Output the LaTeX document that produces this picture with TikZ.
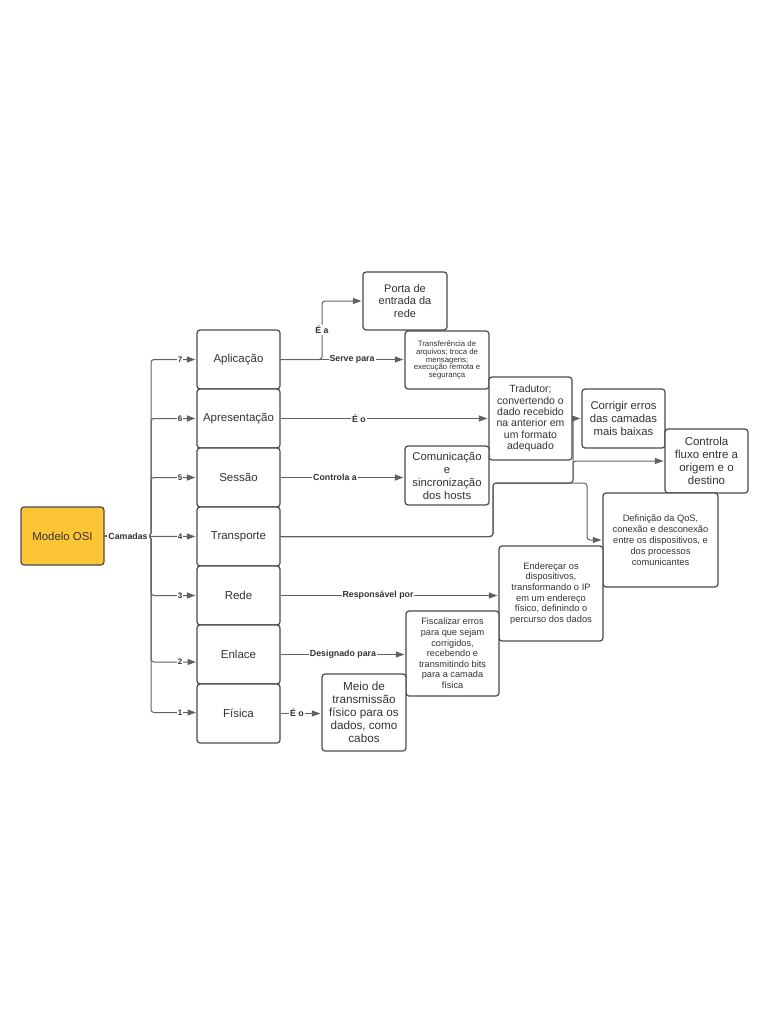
\documentclass[tikz,border=0pt]{standalone}
\usepackage{fontspec}
\setmainfont{Liberation Sans}
\usetikzlibrary{arrows.meta,calc}
\definecolor{txt}{HTML}{333333}
\definecolor{ln}{HTML}{616161}
\definecolor{bd}{HTML}{4A4A4A}
\definecolor{osiy}{HTML}{FBC535}
\newcommand{\fs}[2]{\fontsize{#1}{#2}\selectfont}
\begin{document}
\begin{tikzpicture}[x=1pt,y=-1pt,
 box/.style={draw=bd, line width=1.2pt, rounded corners=3pt, fill=white, inner sep=0pt, align=center, text=txt},
 conn/.style={draw=ln, line width=1pt, rounded corners=3pt, shorten >=1pt, -{Triangle[length=8.5pt,width=6pt]}},
 lab/.style={fill=white, inner sep=1pt, font=\fs{8.8}{10}\bfseries, text=txt},
 numlab/.style={fill=white, inner sep=1pt, font=\fs{8}{9}\bfseries, text=txt}
]
\useasboundingbox (0,0) rectangle (768,1024);
\fill[white] (0,0) rectangle (768,1024);

% main node
\node[box, fill=osiy, minimum width=83pt, minimum height=58pt, font=\fs{11.4}{13}] (osi) at (62.5,536) {Modelo OSI};

% layers
\node[box, minimum width=83pt, minimum height=59pt, font=\fs{11.5}{13}] (apl) at (238.5,359.5) {Aplicação};
\node[box, minimum width=83pt, minimum height=59pt, font=\fs{11.5}{13}] (apr) at (238.5,418.5) {Apresentação};
\node[box, minimum width=83pt, minimum height=59pt, font=\fs{11.5}{13}] (ses) at (238.5,477.5) {Sessão};
\node[box, minimum width=83pt, minimum height=59pt, font=\fs{11.5}{13}] (tra) at (238.5,536.5) {Transporte};
\node[box, minimum width=83pt, minimum height=59pt, font=\fs{11.5}{13}] (red) at (238.5,595.5) {Rede};
\node[box, minimum width=83pt, minimum height=59pt, font=\fs{11.5}{13}] (enl) at (238.5,654.5) {Enlace};
\node[box, minimum width=83pt, minimum height=59pt, font=\fs{11.5}{13}] (fis) at (238.5,713.5) {Física};

% description boxes
\node[box, minimum width=84pt, minimum height=58pt, font=\fs{11}{12.5}] (porta) at (405,301) {Porta de\\entrada da\\rede};
\node[box, minimum width=84pt, minimum height=58pt, font=\fs{7.8}{7.8}] (transf) at (447,360) {Transferência de\\arquivos; troca de\\mensagens;\\execução remota e\\segurança};
\node[box, minimum width=83pt, minimum height=83pt, font=\fs{10.5}{11.4}] (trad) at (530.5,418.5) {Tradutor;\\convertendo o\\dado recebido\\na anterior em\\um formato\\adequado};
\node[box, minimum width=84pt, minimum height=59pt, font=\fs{11.3}{13}] (comun) at (447,475.5) {Comunicação\\e\\sincronização\\dos hosts};
\node[box, minimum width=83pt, minimum height=59pt, font=\fs{11.3}{13}] (corr) at (623.5,418.5) {Corrigir erros\\das camadas\\mais baixas};
\node[box, minimum width=83pt, minimum height=64pt, font=\fs{11.5}{12.8}] (ctrl) at (706.5,461) {Controla\\fluxo entre a\\origem e o\\destino};
\node[box, minimum width=115pt, minimum height=94pt, font=\fs{9.3}{11}] (def) at (660.5,540) {Definição da QoS,\\conexão e desconexão\\entre os dispositivos, e\\dos processos\\comunicantes};
\node[box, minimum width=104pt, minimum height=95pt, font=\fs{9.3}{10.7}] (ender) at (551,593.5) {Endereçar os\\dispositivos,\\transformando o IP\\em um endereço\\físico, definindo o\\percurso dos dados};
\node[box, minimum width=93pt, minimum height=85pt, font=\fs{9.2}{10.6}] (fisc) at (452.5,653.5) {Fiscalizar erros\\para que sejam\\corrigidos,\\recebendo e\\transmitindo bits\\para a camada\\física};
\node[box, minimum width=84pt, minimum height=77pt, font=\fs{11.7}{12.9}] (meio) at (364,712.5) {Meio de\\transmissão\\físico para os\\dados, como\\cabos};

% OSI -> layers
\coordinate (trunk) at (151,536);
\draw[conn] (osi.east) -- (trunk) |- (apl.west);
\draw[conn] (osi.east) -- (trunk) |- (apr.west);
\draw[conn] (osi.east) -- (trunk) |- (ses.west);
\draw[conn] (osi.east) -- (tra.west);
\draw[conn] (osi.east) -- (trunk) |- (red.west);
\coordinate (enlin) at (197,662);
\coordinate (fisin) at (197,712.5);
\draw[conn] (osi.east) -- (trunk) |- (enlin);
\draw[conn] (osi.east) -- (trunk) |- (fisin);
\node[lab] at (128,536) {Camadas};
\node[numlab] at (180,359.5) {7};
\node[numlab] at (180,418.5) {6};
\node[numlab] at (180,477.5) {5};
\node[numlab] at (180,536.5) {4};
\node[numlab] at (180,595.5) {3};
\node[numlab] at (180,662) {2};
\node[numlab] at (180,712.5) {1};

% Aplicacao
\draw[conn] (apl.east) -- (322,359.5) |- (porta.west);
\draw[conn] (apl.east) -- (apl.east -| transf.west);
\node[lab] at (322,330) {É a};
\node[lab] at (352,359.5) {Serve para};

% Apresentacao
\draw[conn] (apr.east) -- (trad.west);
\node[lab] at (359,418.5) {É o};

% Sessao
\draw[conn] (ses.east) -- (ses.east -| comun.west);
\node[lab] at (335,477.5) {Controla a};

% Transporte
\draw[conn] (tra.east) -| (493,483) -- (573,483) |- (corr.west);
\draw[conn] (tra.east) -| (493,483) -- (573,483) |- (ctrl.west);
\draw[conn] (tra.east) -| (493,483) -- (587,483) |- (def.west);

% Rede
\draw[conn] (red.east) -- (red.east -| ender.west);
\node[lab] at (378,595) {Responsável por};

% Enlace
\draw[conn] (enl.east) -- (enl.east -| fisc.west);
\node[lab] at (343,654) {Designado para};

% Fisica
\draw[conn] (fis.east) -- (fis.east -| meio.west);
\node[lab] at (297,713) {É o};
\end{tikzpicture}
\end{document}
